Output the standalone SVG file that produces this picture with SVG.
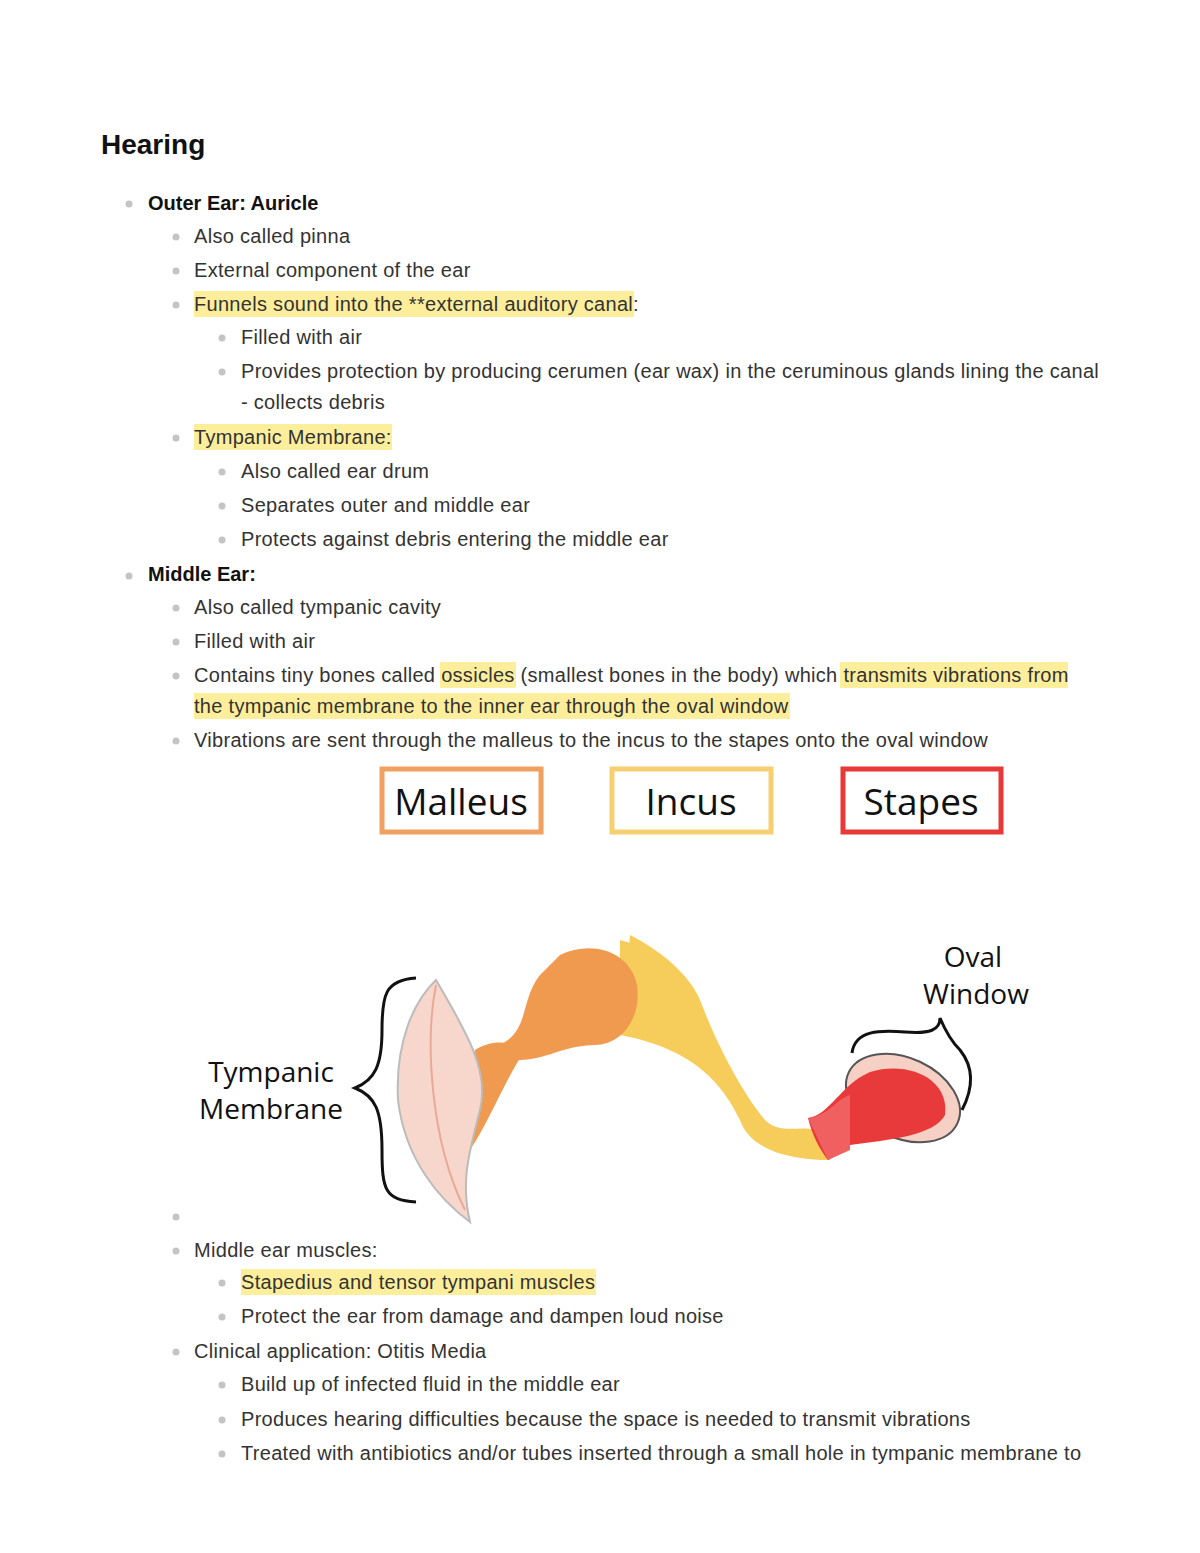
<svg xmlns="http://www.w3.org/2000/svg" width="1200" height="1553" viewBox="0 0 1200 1553">
<style>
text{font-family:"Liberation Sans",Arial,sans-serif;font-size:20px;fill:#333;letter-spacing:0.3px}
.b{font-weight:bold;fill:#111;letter-spacing:0}
.hl{fill:#fdee9c}
.d{fill:#c4c4c4}
.box{fill:#fff;stroke-width:5}
.bt{font-family:"Open Sans","Liberation Sans",sans-serif;font-size:37px;fill:#111;text-anchor:middle;letter-spacing:0}
.lb{font-family:"Open Sans","Liberation Sans",sans-serif;font-size:28px;fill:#111;text-anchor:middle;letter-spacing:0}
.br{fill:none;stroke:#111;stroke-width:3}
</style>
<rect width="1200" height="1553" fill="#fff"/>
<text x="101" y="154" class="b" style="font-size:28px">Hearing</text>
<g id="highlights">
<rect class="hl" x="194" y="291" width="440" height="26"/>
<rect class="hl" x="194" y="424" width="198" height="26"/>
<rect class="hl" x="440" y="662" width="76" height="26"/>
<rect class="hl" x="840" y="662" width="228" height="26"/>
<rect class="hl" x="194" y="693" width="596" height="26"/>
<rect class="hl" x="241" y="1269" width="355" height="26"/>
</g>
<g id="bullets">
<circle class="d" cx="129" cy="204" r="3.5"/><circle class="d" cx="129" cy="576" r="3.5"/>
<circle class="d" cx="176" cy="237" r="3.5"/><circle class="d" cx="176" cy="271" r="3.5"/><circle class="d" cx="176" cy="305" r="3.5"/><circle class="d" cx="176" cy="438" r="3.5"/>
<circle class="d" cx="176" cy="608" r="3.5"/><circle class="d" cx="176" cy="642" r="3.5"/><circle class="d" cx="176" cy="676" r="3.5"/><circle class="d" cx="176" cy="741" r="3.5"/>
<circle class="d" cx="176" cy="1217" r="3.5"/><circle class="d" cx="176" cy="1251" r="3.5"/><circle class="d" cx="176" cy="1352" r="3.5"/>
<circle class="d" cx="222" cy="338" r="3.5"/><circle class="d" cx="222" cy="372" r="3.5"/><circle class="d" cx="222" cy="472" r="3.5"/><circle class="d" cx="222" cy="506" r="3.5"/><circle class="d" cx="222" cy="540" r="3.5"/>
<circle class="d" cx="222" cy="1283" r="3.5"/><circle class="d" cx="222" cy="1317" r="3.5"/><circle class="d" cx="222" cy="1385" r="3.5"/><circle class="d" cx="222" cy="1420" r="3.5"/><circle class="d" cx="222" cy="1454" r="3.5"/>
</g>
<g id="text">
<text x="148" y="210" class="b">Outer Ear: Auricle</text>
<text x="194" y="243">Also called pinna</text>
<text x="194" y="277">External component of the ear</text>
<text x="194" y="311">Funnels sound into the **external auditory canal:</text>
<text x="241" y="344">Filled with air</text>
<text x="241" y="378">Provides protection by producing cerumen (ear wax) in the ceruminous glands lining the canal</text>
<text x="241" y="409">- collects debris</text>
<text x="194" y="444">Tympanic Membrane:</text>
<text x="241" y="478">Also called ear drum</text>
<text x="241" y="512">Separates outer and middle ear</text>
<text x="241" y="546">Protects against debris entering the middle ear</text>
<text x="148" y="581" class="b">Middle Ear:</text>
<text x="194" y="614">Also called tympanic cavity</text>
<text x="194" y="648">Filled with air</text>
<text x="194" y="682">Contains tiny bones called ossicles (smallest bones in the body) which transmits vibrations from</text>
<text x="194" y="713">the tympanic membrane to the inner ear through the oval window</text>
<text x="194" y="747">Vibrations are sent through the malleus to the incus to the stapes onto the oval window</text>
<text x="194" y="1257">Middle ear muscles:</text>
<text x="241" y="1289">Stapedius and tensor tympani muscles</text>
<text x="241" y="1323">Protect the ear from damage and dampen loud noise</text>
<text x="194" y="1358">Clinical application: Otitis Media</text>
<text x="241" y="1391">Build up of infected fluid in the middle ear</text>
<text x="241" y="1426">Produces hearing difficulties because the space is needed to transmit vibrations</text>
<text x="241" y="1460">Treated with antibiotics and/or tubes inserted through a small hole in tympanic membrane to</text>
</g>
<g id="malleus-box"><rect class="box" x="382" y="769" width="159" height="63" stroke="#f0a060"/><text class="bt" x="461" y="815">Malleus</text></g>
<g id="incus-box"><rect class="box" x="612" y="769" width="159" height="63" stroke="#f6d070"/><text class="bt" x="691" y="815">Incus</text></g>
<g id="stapes-box"><rect class="box" x="843" y="769" width="158" height="63" stroke="#e83838"/><text class="bt" x="921" y="815">Stapes</text></g>
<g id="illustration">
<path d="M630,935 C660,950 690,975 700,1000 C715,1040 740,1090 765,1120 C780,1135 800,1125 815,1130 L830,1160 C790,1160 750,1150 740,1120 C725,1090 700,1050 620,1035 Z" fill="#f6cd5a"/>
<path d="M620,940 C660,950 680,980 690,1000 L620,1035 Z" fill="#f6cd5a"/>
<path d="M560,955 C590,940 630,950 637,985 C642,1020 620,1045 595,1045 C565,1045 545,1060 520,1060 C495,1065 480,1100 470,1145 L462,1155 C470,1100 472,1055 500,1045 C530,1030 520,1000 540,975 Z" fill="#ef9a4e"/>
<path d="M475,1050 C490,1040 510,1040 525,1050 C505,1080 490,1120 470,1150 Z" fill="#ef9a4e"/>
<path d="M436,980 C465,1030 490,1070 480,1110 C470,1150 460,1180 470,1222 C440,1200 405,1160 398,1100 C395,1040 415,1000 436,980 Z" fill="#f7d6cc" stroke="#bbb" stroke-width="2"/>
<path d="M436,985 C425,1040 430,1140 465,1210" fill="none" stroke="#e9a999" stroke-width="2"/>
<ellipse cx="903" cy="1098" rx="60" ry="40" transform="rotate(25 903 1098)" fill="#f6cfc5" stroke="#555" stroke-width="2"/>
<path d="M808,1118 C830,1115 840,1085 870,1072 C910,1060 950,1080 945,1115 C935,1135 890,1140 850,1145 L828,1160 C820,1150 812,1135 808,1118 Z" fill="#e83a3a"/>
<path d="M808,1118 C830,1115 835,1100 850,1095 L850,1150 L828,1160 Z" fill="#f06060"/>
<path class="br" d="M416,978 C385,980 382,995 382,1030 C382,1065 375,1080 355,1088 C375,1096 382,1110 382,1150 C382,1190 385,1200 416,1202"/>
<path class="br" d="M852,1053 C855,1030 880,1030 905,1032 C930,1034 940,1030 940,1018 C945,1030 950,1040 960,1050 C972,1065 975,1085 962,1110"/>
<text class="lb" x="271" y="1082">Tympanic</text>
<text class="lb" x="271" y="1119">Membrane</text>
<text class="lb" x="973" y="967">Oval</text>
<text class="lb" x="976" y="1004">Window</text>
</g>
</svg>
